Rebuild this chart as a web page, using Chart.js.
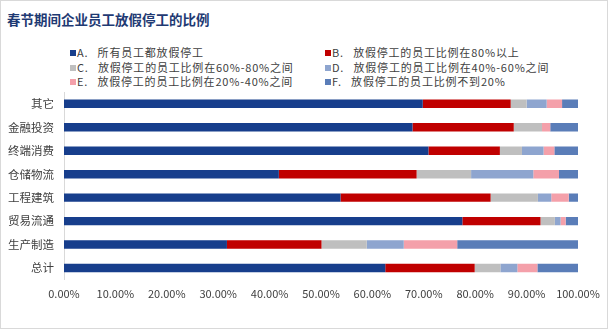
<!DOCTYPE html>
<html><head><meta charset="utf-8">
<script src="https://cdn.jsdelivr.net/npm/chart.js@4/dist/chart.umd.min.js"></script>
<style>
html,body{margin:0;padding:0;background:#fff;}
#wrap{position:relative;width:608px;height:329px;box-sizing:border-box;border:1px solid #D9D9D9;overflow:hidden;}
#title{position:absolute;left:6px;top:8px;font-family:"Noto Sans CJK SC";font-weight:bold;font-size:13.5px;color:#1F3A73;letter-spacing:0px;white-space:nowrap;}
.lg{position:absolute;font-family:"Noto Sans CJK SC";font-size:11px;color:#404040;white-space:pre;line-height:14px;letter-spacing:0.8px;word-spacing:6px;}
.lg i{display:inline-block;width:6px;height:6px;margin-right:1px;vertical-align:1px;}
canvas{position:absolute;left:-1px;top:-1px;}
</style></head>
<body><div id="wrap">
<div id="title">春节期间企业员工放假停工的比例</div>
<div id="legend"></div>
<canvas id="c" width="608" height="329"></canvas>
</div>
<script>
const categories = ['其它','金融投资','终端消费','仓储物流','工程建筑','贸易流通','生产制造','总计'];
const seriesLabels = ['A. 所有员工都放假停工','B. 放假停工的员工比例在80%以上','C. 放假停工的员工比例在60%-80%之间','D. 放假停工的员工比例在40%-60%之间','E. 放假停工的员工比例在20%-40%之间','F. 放假停工的员工比例不到20%'];
const seriesA = [69.8, 67.8, 70.9, 41.8, 53.8, 77.5, 31.7, 62.5];
const seriesB = [17.1, 19.7, 13.9, 26.8, 29.2, 15.2, 18.4, 17.4];
const seriesC = [3.1, 5.5, 4.3, 10.6, 9.2, 2.8, 8.8, 5.0];
const seriesD = [3.9, 0.0, 4.2, 12.1, 2.6, 1.1, 7.2, 3.3];
const seriesE = [3.0, 1.6, 2.1, 5.0, 3.4, 1.0, 10.4, 3.9];
const seriesF = [3.1, 5.4, 4.6, 3.7, 1.8, 2.4, 23.5, 7.9];
const xTicks = [0,10,20,30,40,50,60,70,80,90,100];
const colors = ['#173E8C','#C00000','#BFBFBF','#8EA5CF','#F4A0AA','#5A7DB8'];

const allSeries = [seriesA, seriesB, seriesC, seriesD, seriesE, seriesF];
const datasets = allSeries.map((d,i)=>({
  label: seriesLabels[i], data: d, backgroundColor: colors[i], borderWidth: 0,
  categoryPercentage: 1.0, barPercentage: 0.36
}));

// HTML legend (two columns)
const lg = document.getElementById('legend');
const colX = [69, 324];
const rowY = [44, 58.5, 73];
seriesLabels.forEach((t,i)=>{
  const d = document.createElement('div');
  d.className = 'lg';
  d.style.left = colX[i%2] + 'px';
  d.style.top = rowY[Math.floor(i/2)] + 'px';
  d.innerHTML = '<i style="background:'+colors[i]+'"></i>';
  d.appendChild(document.createTextNode(t));
  lg.appendChild(d);
});

new Chart(document.getElementById('c'), {
  type: 'bar',
  data: { labels: categories, datasets },
  options: {
    indexAxis: 'y', responsive: false, animation: false,
    layout: { padding: { top: 92, right: 30, bottom: 22, left: 0 } },
    plugins: { legend: { display: false }, title: { display: false }, tooltip: { enabled: false } },
    scales: {
      x: {
        stacked: true, min: 0, max: 100,
        afterBuildTicks: s => { s.ticks = xTicks.map(v=>({value:v})); },
        grid: { display: false, drawTicks: false },
        border: { display: false },
        ticks: { padding: 7, color: '#404040', font: { family: 'Noto Sans CJK SC', size: 11 },
          callback: v => Number(v).toFixed(2) + '%', maxRotation: 0, autoSkip: false }
      },
      y: {
        stacked: true,
        afterFit: s => { s.width = 64; },
        grid: { display: false, drawTicks: false },
        border: { display: true, color: '#D9D9D9', width: 1 },
        ticks: { padding: 10, color: '#404040', font: { family: 'Noto Sans CJK SC', size: 11.5 } }
      }
    }
  }
});
</script>
</body></html>
